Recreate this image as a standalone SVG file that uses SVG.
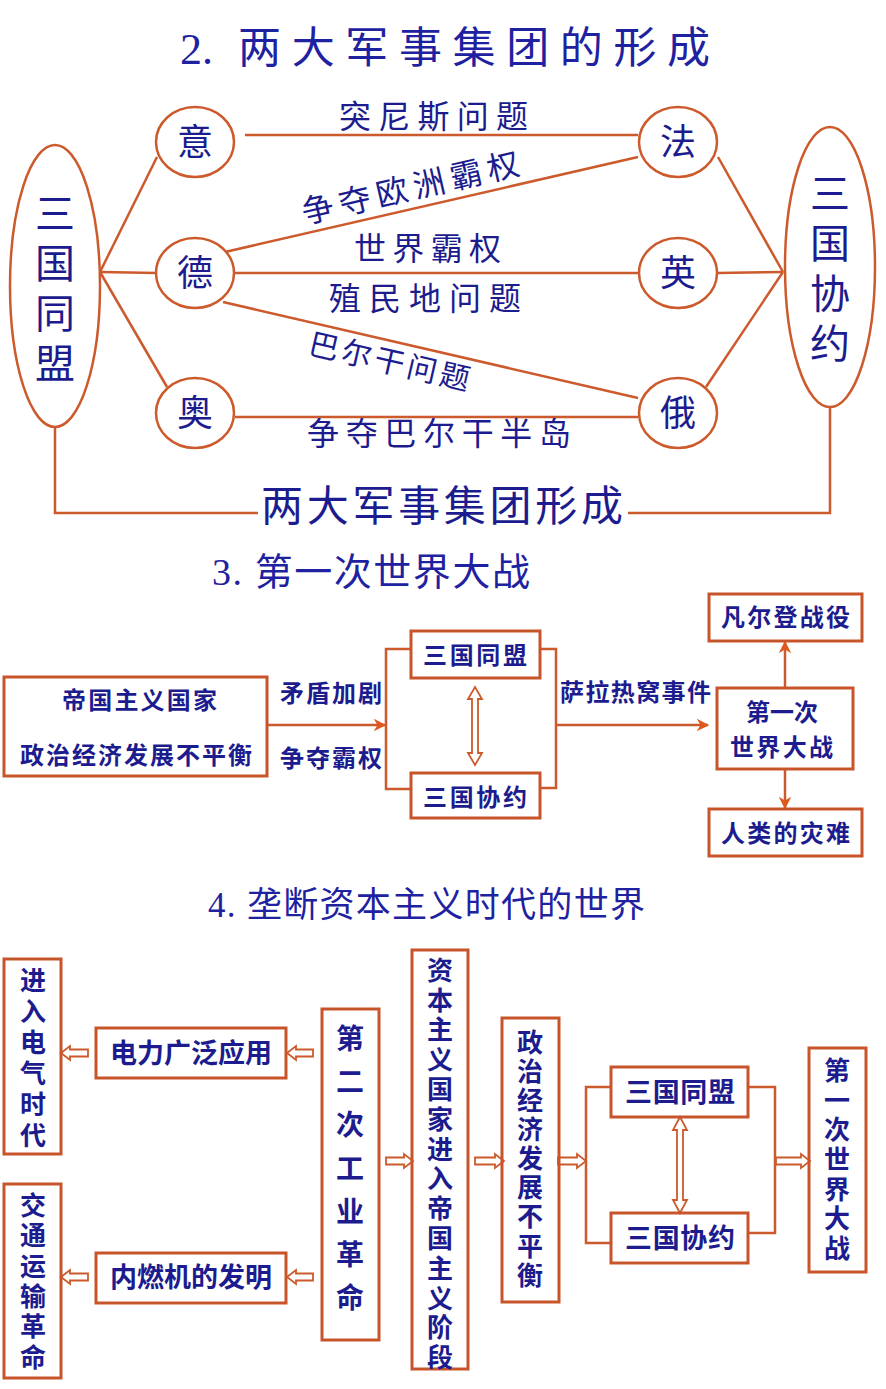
<svg xmlns="http://www.w3.org/2000/svg" width="886" height="1389" viewBox="0 0 886 1389">
<defs>
<style>
.ln{fill:none;stroke:#cc5a2c;stroke-width:2.5}
.bx{fill:none;stroke:#c8552a;stroke-width:3}
.ha{fill:#fff;stroke:#cc5a2c;stroke-width:1.8;stroke-linejoin:miter}
.t{font-family:"Noto Sans CJK SC","Liberation Sans",sans-serif;fill:#1c1c8e}
.tt{font-family:"Liberation Serif","Noto Sans CJK SC",serif;fill:#1f22a0}
.b{font-weight:bold}
.m{text-anchor:middle}
.v{writing-mode:vertical-rl;text-orientation:upright}
</style>
<marker id="ah" viewBox="0 0 10 10" refX="9" refY="5" markerWidth="5" markerHeight="5" orient="auto" markerUnits="strokeWidth">
<path d="M0,0 L10,5 L0,10 L3,5 z" fill="#e0581e"/>
</marker>
</defs>
<rect width="886" height="1389" fill="#ffffff"/>

<!-- Section 2 -->
<g id="title2">
<text class="tt" x="180" y="64" font-size="44">2.</text>
<text class="tt" x="238" y="63" font-size="43" textLength="472" lengthAdjust="spacing">两大军事集团的形成</text>
</g>

<g id="connectors">
<line class="ln" x1="245" y1="135" x2="638" y2="135"/>
<line class="ln" x1="225" y1="252" x2="638" y2="157"/>
<line class="ln" x1="235" y1="273" x2="638" y2="273"/>
<line class="ln" x1="223" y1="302" x2="638" y2="398"/>
<line class="ln" x1="235" y1="417" x2="638" y2="417"/>
<line class="ln" x1="100" y1="272" x2="157" y2="157"/>
<line class="ln" x1="100" y1="272" x2="157" y2="273"/>
<line class="ln" x1="100" y1="272" x2="167" y2="387"/>
<line class="ln" x1="718" y1="157" x2="783" y2="272"/>
<line class="ln" x1="718" y1="273" x2="783" y2="272"/>
<line class="ln" x1="706" y1="387" x2="783" y2="272"/>
<polyline class="ln" points="55,427 55,513 258,513"/>
<polyline class="ln" points="628,513 830,513 830,407"/>
<line class="ln" x1="267" y1="725" x2="385" y2="725" marker-end="url(#ah)"/>
<polyline class="ln" points="411,649 386,649 386,789 411,789"/>
<polyline class="ln" points="540,649 556,649 556,788 540,788"/>
<line class="ln" x1="556" y1="725" x2="708" y2="725" marker-end="url(#ah)"/>
<line class="ln" x1="785" y1="688" x2="785" y2="642" marker-end="url(#ah)"/>
<line class="ln" x1="785" y1="769" x2="785" y2="808" marker-end="url(#ah)"/>
<polygon class="ha" points="475,687 482,699 478,699 478,753 482,753 475,765 468,753 472,753 472,699 468,699"/>
<polyline class="ln" points="611,1087 586,1087 586,1243 611,1243"/>
<polyline class="ln" points="748,1087 775,1087 775,1233 748,1233"/>
<polygon class="ha" points="680,1117 687,1130 683,1130 683,1200 687,1200 680,1213 673,1200 677,1200 677,1130 673,1130"/>
<polygon class="ha" points="88,1049.5 70,1049.5 70,1046 61,1053 70,1060 70,1056.5 88,1056.5"/>
<polygon class="ha" points="313,1049.5 296,1049.5 296,1046 287,1053 296,1060 296,1056.5 313,1056.5"/>
<polygon class="ha" points="88,1273.5 70,1273.5 70,1270 61,1277 70,1284 70,1280.5 88,1280.5"/>
<polygon class="ha" points="313,1273.5 296,1273.5 296,1270 287,1277 296,1284 296,1280.5 313,1280.5"/>
<polygon class="ha" points="386,1157.5 404,1157.5 404,1154 413,1161 404,1168 404,1164.5 386,1164.5"/>
<polygon class="ha" points="475,1157.5 495,1157.5 495,1154 504,1161 495,1168 495,1164.5 475,1164.5"/>
<polygon class="ha" points="558,1157.5 577,1157.5 577,1154 586,1161 577,1168 577,1164.5 558,1164.5"/>
<polygon class="ha" points="776,1157.5 801,1157.5 801,1154 810,1161 801,1168 801,1164.5 776,1164.5"/>
</g>

<g id="triple-alliance">
<ellipse class="ln" cx="55" cy="286" rx="45" ry="141"/>
<text class="t v" x="55" y="193" font-size="40" letter-spacing="10">三国同盟</text>
</g>
<g id="triple-entente">
<ellipse class="ln" cx="830" cy="267" rx="45" ry="140"/>
<text class="t v" x="830" y="173" font-size="40" letter-spacing="10">三国协约</text>
</g>
<g id="italy"><ellipse class="ln" cx="195" cy="142" rx="39" ry="35"/><text class="t m" x="195" y="155" font-size="36">意</text></g>
<g id="france"><ellipse class="ln" cx="678" cy="142" rx="39" ry="35"/><text class="t m" x="678" y="155" font-size="36">法</text></g>
<g id="germany"><ellipse class="ln" cx="195" cy="273" rx="39" ry="35"/><text class="t m" x="195" y="286" font-size="36">德</text></g>
<g id="britain"><ellipse class="ln" cx="678" cy="273" rx="39" ry="35"/><text class="t m" x="678" y="286" font-size="36">英</text></g>
<g id="austria"><ellipse class="ln" cx="195" cy="413" rx="39" ry="35"/><text class="t m" x="195" y="426" font-size="36">奥</text></g>
<g id="russia"><ellipse class="ln" cx="678" cy="413" rx="39" ry="35"/><text class="t m" x="678" y="426" font-size="36">俄</text></g>

<g id="labels2">
<text class="t" x="339" y="128" font-size="32" textLength="189" lengthAdjust="spacing">突尼斯问题</text>
<text class="t" x="-111" y="0" font-size="32" textLength="222" lengthAdjust="spacing" transform="translate(413,199) rotate(-13)">争夺欧洲霸权</text>
<text class="t" x="354" y="260" font-size="32" textLength="147" lengthAdjust="spacing">世界霸权</text>
<text class="t" x="329" y="310" font-size="32" textLength="192" lengthAdjust="spacing">殖民地问题</text>
<text class="t" x="-82" y="0" font-size="30" textLength="164" lengthAdjust="spacing" transform="translate(387,372) rotate(13)">巴尔干问题</text>
<text class="t" x="307" y="445" font-size="32" textLength="264" lengthAdjust="spacing">争夺巴尔干半岛</text>
<text class="t" x="261" y="521" font-size="42" textLength="362" lengthAdjust="spacing">两大军事集团形成</text>
</g>

<!-- Section 3 -->
<text id="title3" class="tt" x="212" y="585" font-size="38" textLength="318" lengthAdjust="spacing">3. 第一次世界大战</text>
<g id="imperialist">
<rect class="bx" x="4" y="677" width="263" height="99"/>
<text class="t b" x="62" y="709" font-size="24" textLength="155" lengthAdjust="spacing">帝国主义国家</text>
<text class="t b" x="20" y="764" font-size="24" textLength="232" lengthAdjust="spacing">政治经济发展不平衡</text>
</g>
<g id="labels3">
<text class="t b" x="280" y="702" font-size="24" textLength="102" lengthAdjust="spacing">矛盾加剧</text>
<text class="t b" x="280" y="767" font-size="24" textLength="102" lengthAdjust="spacing">争夺霸权</text>
<text class="t b" x="560" y="701" font-size="24" textLength="151" lengthAdjust="spacing">萨拉热窝事件</text>
</g>
<g id="s3-alliance"><rect class="bx" x="411" y="631" width="129" height="47"/><text class="t b" x="423" y="664" font-size="24" textLength="104" lengthAdjust="spacing">三国同盟</text></g>
<g id="s3-entente"><rect class="bx" x="411" y="773" width="129" height="45"/><text class="t b" x="423" y="806" font-size="24" textLength="104" lengthAdjust="spacing">三国协约</text></g>
<g id="s3-ww1"><rect class="bx" x="717" y="688" width="136" height="81"/>
<text class="t b m" x="782" y="721" font-size="24">第一次</text>
<text class="t b" x="730" y="756" font-size="24" textLength="103" lengthAdjust="spacing">世界大战</text></g>
<g id="verdun"><rect class="bx" x="709" y="594" width="153" height="47"/><text class="t b" x="721" y="626" font-size="24" textLength="129" lengthAdjust="spacing">凡尔登战役</text></g>
<g id="disaster"><rect class="bx" x="709" y="809" width="153" height="47"/><text class="t b" x="721" y="842" font-size="24" textLength="129" lengthAdjust="spacing">人类的灾难</text></g>

<!-- Section 4 -->
<text id="title4" class="tt" x="208" y="917" font-size="35" textLength="437" lengthAdjust="spacing">4. 垄断资本主义时代的世界</text>
<g id="electric-age"><rect class="bx" x="4" y="959" width="57" height="195"/>
<text class="t b v" x="33" y="967" font-size="26" letter-spacing="5">进入电气时代</text></g>
<g id="transport"><rect class="bx" x="4" y="1184" width="57" height="194"/>
<text class="t b v" x="33" y="1192" font-size="26" letter-spacing="4.4">交通运输革命</text></g>
<g id="electricity"><rect class="bx" x="96" y="1028" width="190" height="50"/><text class="t b" x="110" y="1063" font-size="27" textLength="162" lengthAdjust="spacing">电力广泛应用</text></g>
<g id="engine"><rect class="bx" x="96" y="1253" width="190" height="50"/><text class="t b" x="110" y="1287" font-size="27" textLength="162" lengthAdjust="spacing">内燃机的发明</text></g>
<g id="second-ir"><rect class="bx" x="322" y="1009" width="57" height="331"/>
<text class="t b v" x="350" y="1024" font-size="28" letter-spacing="15.3">第二次工业革命</text></g>
<g id="imperialism-stage"><rect class="bx" x="412" y="950" width="56" height="419"/>
<text class="t b v" x="440" y="957" font-size="26" letter-spacing="3.8">资本主义国家进入帝国主义阶段</text></g>
<g id="uneven"><rect class="bx" x="502" y="1018" width="57" height="284"/>
<text class="t b v" x="530" y="1029" font-size="26" letter-spacing="3.1">政治经济发展不平衡</text></g>
<g id="s4-alliance"><rect class="bx" x="611" y="1067" width="137" height="50"/><text class="t b" x="625" y="1102" font-size="27" textLength="110" lengthAdjust="spacing">三国同盟</text></g>
<g id="s4-entente"><rect class="bx" x="611" y="1213" width="137" height="50"/><text class="t b" x="625" y="1248" font-size="27" textLength="110" lengthAdjust="spacing">三国协约</text></g>
<g id="s4-ww1"><rect class="bx" x="809" y="1048" width="57" height="224"/>
<text class="t b v" x="837" y="1057" font-size="26" letter-spacing="3.7">第一次世界大战</text></g>
</svg>
